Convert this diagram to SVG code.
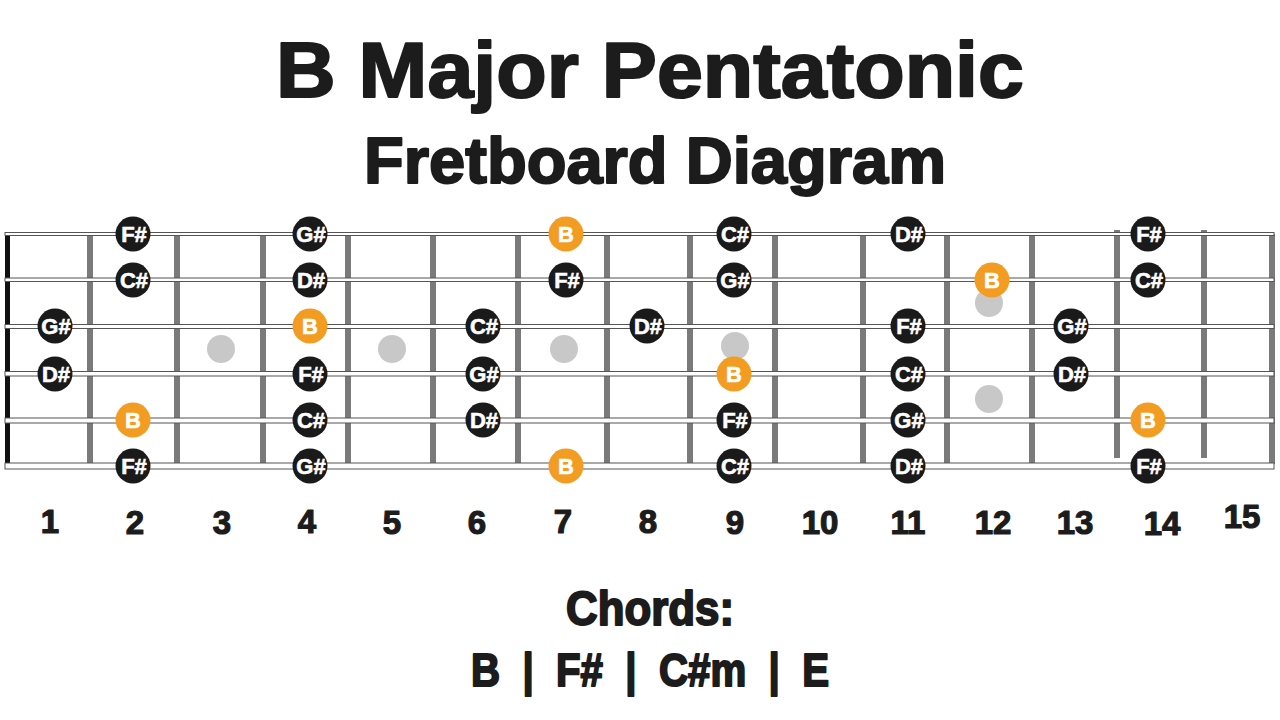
<svg xmlns="http://www.w3.org/2000/svg" width="1280" height="720" viewBox="0 0 1280 720">
<style>
.t{font-family:"Liberation Sans",Arial,sans-serif;font-weight:bold;fill:#1c1c1c;text-anchor:middle;stroke:#1c1c1c;stroke-width:2;stroke-linejoin:round}
.num{font-family:"Liberation Sans",Arial,sans-serif;font-weight:bold;fill:#1c1c1c;text-anchor:middle;font-size:33px;stroke:#1c1c1c;stroke-width:1.2;stroke-linejoin:round}
.fret{fill:#7a7a7a}
.str{fill:#ffffff;stroke:#555555;stroke-width:1}
.inlay{fill:#c8c8c8}
.n circle{fill:#1a1a1a}
.r circle{fill:#f39c22}
.n text,.r text{font-family:"Liberation Sans",Arial,sans-serif;font-weight:bold;font-size:22px;fill:#ffffff;text-anchor:middle;stroke:#ffffff;stroke-width:0.6}
</style>
<rect width="1280" height="720" fill="#ffffff"/>
<text class="t" x="650" y="97" font-size="78" textLength="748" lengthAdjust="spacingAndGlyphs">B Major Pentatonic</text>
<text class="t" x="655" y="183" font-size="64" textLength="582" lengthAdjust="spacingAndGlyphs">Fretboard Diagram</text>

<g id="fretboard">
  <rect x="5" y="232" width="5" height="236" fill="#111111"/>
  <g id="frets">
    <rect class="fret" x="87" y="236" width="6" height="228"/>
    <rect class="fret" x="174" y="236" width="6" height="228"/>
    <rect class="fret" x="260" y="236" width="6" height="228"/>
    <rect class="fret" x="345" y="236" width="6" height="228"/>
    <rect class="fret" x="430" y="236" width="6" height="228"/>
    <rect class="fret" x="515" y="236" width="6" height="228"/>
    <rect class="fret" x="604" y="236" width="6" height="228"/>
    <rect class="fret" x="687" y="236" width="6" height="228"/>
    <rect class="fret" x="772" y="236" width="6" height="228"/>
    <rect class="fret" x="860" y="236" width="6" height="228"/>
    <rect class="fret" x="944" y="236" width="6" height="228"/>
    <rect class="fret" x="1029" y="236" width="6" height="228"/>
    <rect class="fret" x="1114" y="230" width="6" height="228"/>
    <rect class="fret" x="1201" y="230" width="6" height="228"/>
    <rect class="fret" x="1269" y="234" width="6" height="230"/>
  </g>
  <g id="inlays">
    <circle class="inlay" cx="221" cy="349" r="14"/>
    <circle class="inlay" cx="392" cy="349" r="14"/>
    <circle class="inlay" cx="564" cy="349" r="14"/>
    <circle class="inlay" cx="735" cy="346" r="14"/>
    <circle class="inlay" cx="989" cy="303" r="14"/>
    <circle class="inlay" cx="989" cy="399" r="14"/>
  </g>
  <g id="strings">
    <rect class="str" x="5" y="232.5" width="1269" height="3"/>
    <rect class="str" x="5" y="278" width="1269" height="3.5"/>
    <rect class="str" x="5" y="324.5" width="1269" height="4"/>
    <rect class="str" x="5" y="371.5" width="1269" height="4.5"/>
    <rect class="str" x="5" y="418" width="1269" height="5"/>
    <rect class="str" x="5" y="463" width="1269" height="6"/>
  </g>
</g>

<g id="numbers">
  <text class="num" x="50" y="533">1</text>
  <text class="num" x="135" y="534">2</text>
  <text class="num" x="222" y="534">3</text>
  <text class="num" x="307" y="533">4</text>
  <text class="num" x="392" y="534">5</text>
  <text class="num" x="477" y="534">6</text>
  <text class="num" x="563" y="533">7</text>
  <text class="num" x="648" y="533">8</text>
  <text class="num" x="735" y="534">9</text>
  <text class="num" x="820" y="534">10</text>
  <text class="num" x="908" y="534">11</text>
  <text class="num" x="993" y="534">12</text>
  <text class="num" x="1075" y="534">13</text>
  <text class="num" x="1162" y="535">14</text>
  <text class="num" x="1242" y="528">15</text>
</g>

<g id="notes">
  <!-- string 1 -->
  <g id="s1f2" class="n"><circle cx="133" cy="234" r="17.5"/><text x="134" y="242">F#</text></g>
  <g id="s1f4" class="n"><circle cx="310" cy="234" r="17.5"/><text x="311" y="242">G#</text></g>
  <g id="s1f7" class="r"><circle cx="566" cy="234" r="17.5"/><text x="566" y="242">B</text></g>
  <g id="s1f9" class="n"><circle cx="734" cy="234" r="17.5"/><text x="735" y="242">C#</text></g>
  <g id="s1f11" class="n"><circle cx="908" cy="234" r="17.5"/><text x="909" y="242">D#</text></g>
  <g id="s1f14" class="n"><circle cx="1148" cy="234" r="17.5"/><text x="1149" y="242">F#</text></g>
  <!-- string 2 -->
  <g id="s2f2" class="n"><circle cx="133" cy="280" r="17.5"/><text x="134" y="288">C#</text></g>
  <g id="s2f4" class="n"><circle cx="310" cy="280" r="17.5"/><text x="311" y="288">D#</text></g>
  <g id="s2f7" class="n"><circle cx="566" cy="280" r="17.5"/><text x="567" y="288">F#</text></g>
  <g id="s2f9" class="n"><circle cx="734" cy="280" r="17.5"/><text x="735" y="288">G#</text></g>
  <g id="s2f12" class="r"><circle cx="992" cy="280" r="17.5"/><text x="992" y="288">B</text></g>
  <g id="s2f14" class="n"><circle cx="1148" cy="280" r="17.5"/><text x="1149" y="288">C#</text></g>
  <!-- string 3 -->
  <g id="s3f1" class="n"><circle cx="55" cy="326" r="17.5"/><text x="56" y="334">G#</text></g>
  <g id="s3f4" class="r"><circle cx="310" cy="326" r="17.5"/><text x="310" y="334">B</text></g>
  <g id="s3f6" class="n"><circle cx="483" cy="326" r="17.5"/><text x="484" y="334">C#</text></g>
  <g id="s3f8" class="n"><circle cx="647" cy="326" r="17.5"/><text x="648" y="334">D#</text></g>
  <g id="s3f11" class="n"><circle cx="908" cy="326" r="17.5"/><text x="909" y="334">F#</text></g>
  <g id="s3f13" class="n"><circle cx="1071" cy="326" r="17.5"/><text x="1072" y="334">G#</text></g>
  <!-- string 4 -->
  <g id="s4f1" class="n"><circle cx="55" cy="374" r="17.5"/><text x="56" y="382">D#</text></g>
  <g id="s4f4" class="n"><circle cx="310" cy="374" r="17.5"/><text x="311" y="382">F#</text></g>
  <g id="s4f6" class="n"><circle cx="483" cy="374" r="17.5"/><text x="484" y="382">G#</text></g>
  <g id="s4f9" class="r"><circle cx="734" cy="374" r="17.5"/><text x="734" y="382">B</text></g>
  <g id="s4f11" class="n"><circle cx="908" cy="374" r="17.5"/><text x="909" y="382">C#</text></g>
  <g id="s4f13" class="n"><circle cx="1071" cy="374" r="17.5"/><text x="1072" y="382">D#</text></g>
  <!-- string 5 -->
  <g id="s5f2" class="r"><circle cx="133" cy="420" r="17.5"/><text x="133" y="428">B</text></g>
  <g id="s5f4" class="n"><circle cx="310" cy="420" r="17.5"/><text x="311" y="428">C#</text></g>
  <g id="s5f6" class="n"><circle cx="483" cy="420" r="17.5"/><text x="484" y="428">D#</text></g>
  <g id="s5f9" class="n"><circle cx="734" cy="420" r="17.5"/><text x="735" y="428">F#</text></g>
  <g id="s5f11" class="n"><circle cx="908" cy="420" r="17.5"/><text x="909" y="428">G#</text></g>
  <g id="s5f14" class="r"><circle cx="1148" cy="420" r="17.5"/><text x="1148" y="428">B</text></g>
  <!-- string 6 -->
  <g id="s6f2" class="n"><circle cx="133" cy="466" r="17.5"/><text x="134" y="474">F#</text></g>
  <g id="s6f4" class="n"><circle cx="310" cy="466" r="17.5"/><text x="311" y="474">G#</text></g>
  <g id="s6f7" class="r"><circle cx="566" cy="466" r="17.5"/><text x="566" y="474">B</text></g>
  <g id="s6f9" class="n"><circle cx="734" cy="466" r="17.5"/><text x="735" y="474">C#</text></g>
  <g id="s6f11" class="n"><circle cx="908" cy="466" r="17.5"/><text x="909" y="474">D#</text></g>
  <g id="s6f14" class="n"><circle cx="1148" cy="466" r="17.5"/><text x="1149" y="474">F#</text></g>
</g>

<g id="connectors"></g>

<text class="t" x="650" y="625" font-size="48" textLength="168" lengthAdjust="spacingAndGlyphs">Chords:</text>
<text class="t" x="650" y="686" font-size="47" textLength="358" lengthAdjust="spacingAndGlyphs" xml:space="preserve">B  |  F#  |  C#m  |  E</text>
</svg>
